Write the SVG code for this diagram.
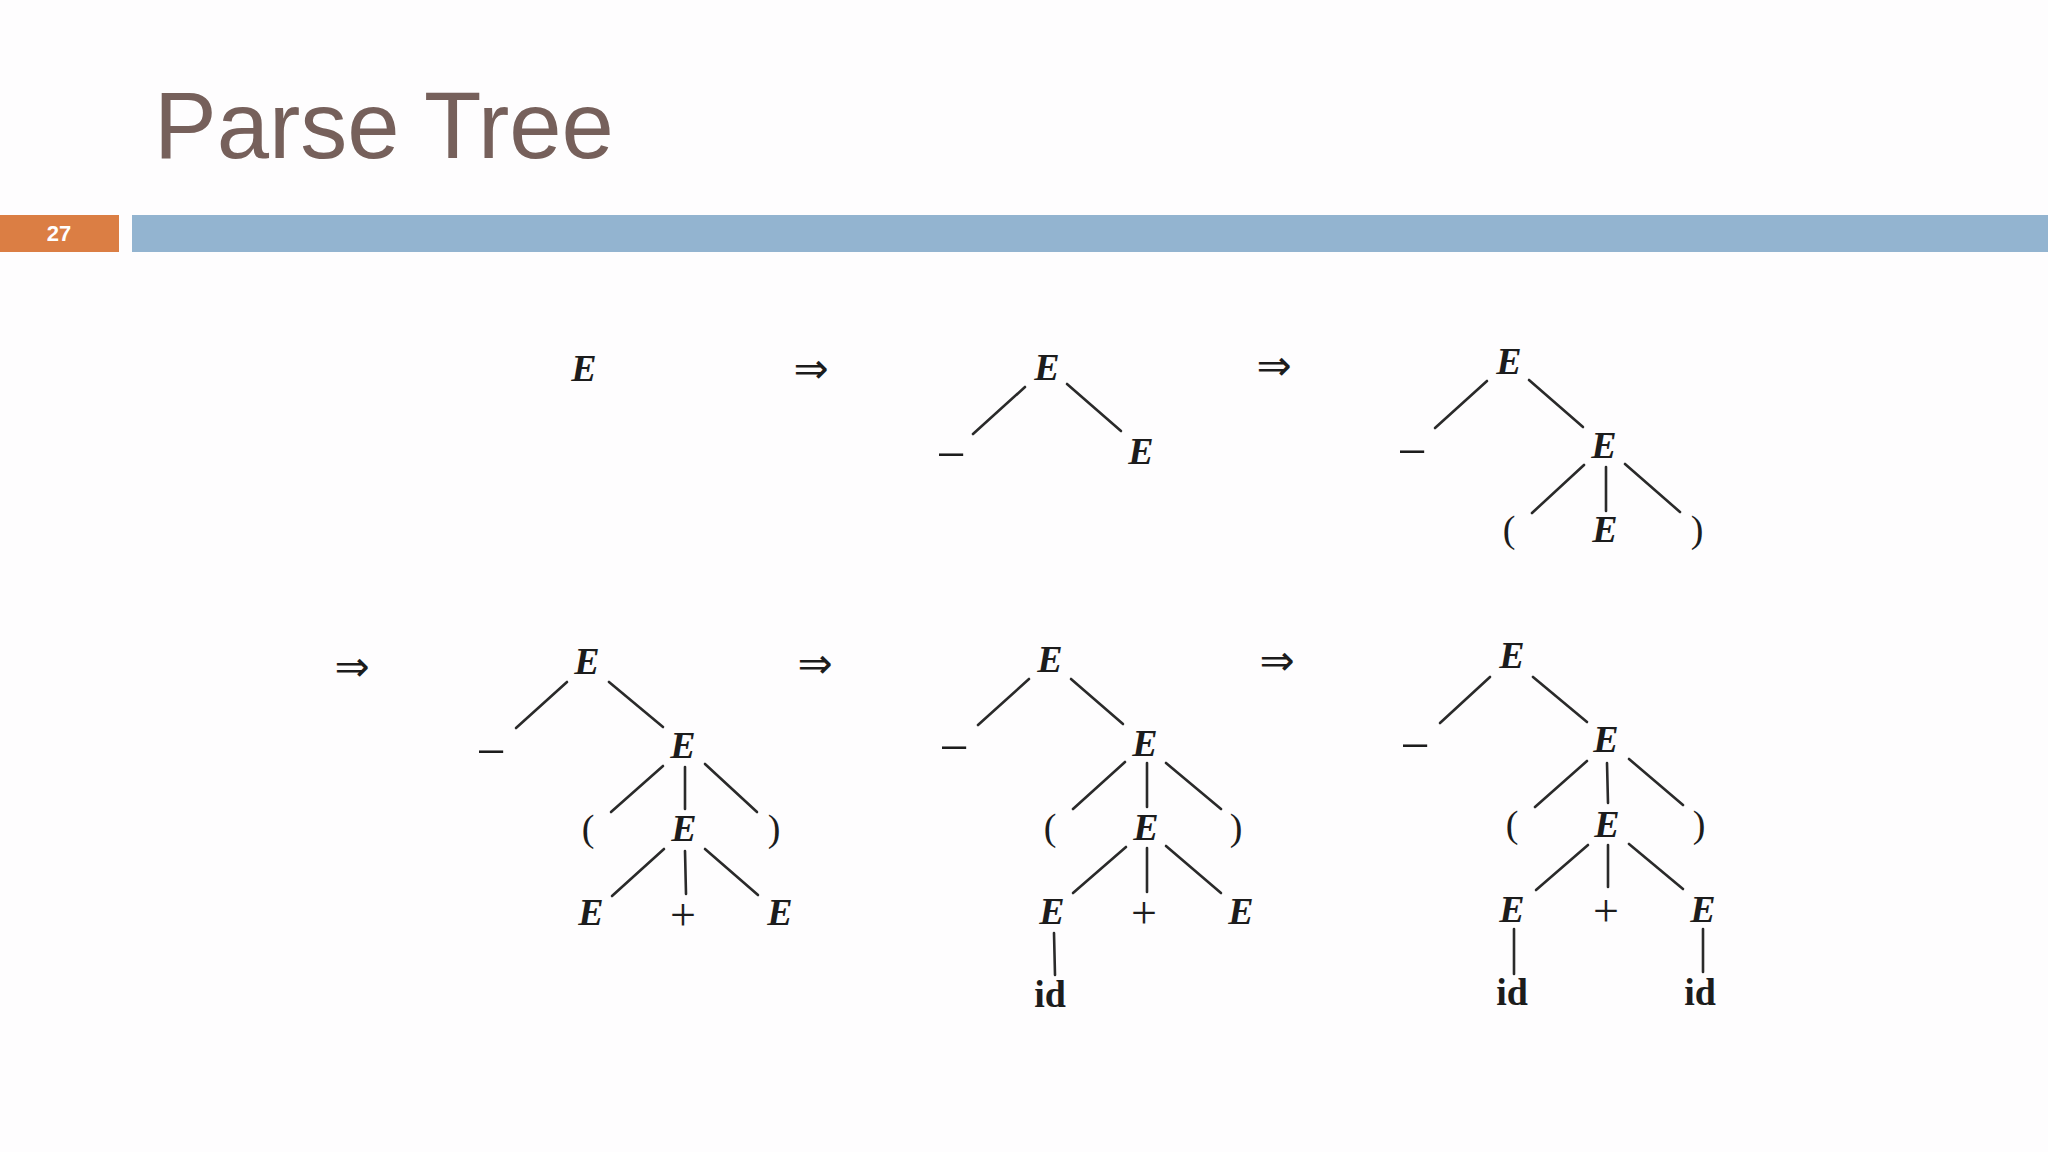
<svg xmlns="http://www.w3.org/2000/svg" width="2048" height="1152" viewBox="0 0 2048 1152">
<style>
.e{font-family:"Liberation Serif",serif;font-style:italic;font-weight:bold;font-size:38px;fill:#1c1c1c;text-anchor:middle}
.s{font-family:"Liberation Serif",serif;font-size:38px;fill:#1c1c1c;text-anchor:middle}
.m{font-family:"Liberation Serif",serif;font-size:52px;fill:#1c1c1c;text-anchor:middle}
.p{font-family:"Liberation Serif",serif;font-size:46px;fill:#1c1c1c;text-anchor:middle}
.id{font-family:"Liberation Serif",serif;font-weight:bold;font-size:38px;fill:#1c1c1c;text-anchor:middle}
.ar{font-family:"DejaVu Sans",sans-serif;font-size:42px;fill:#1c1c1c;text-anchor:middle}
.c line{stroke:#2a2a2a;stroke-width:2.6;stroke-linecap:round}
</style>
<rect width="2048" height="1152" fill="#fefdfe"/>
<g id="header">
<text x="154" y="158" font-family="Liberation Sans, Arial, sans-serif" font-size="94" fill="#76605b">Parse Tree</text>
<rect x="0" y="215" width="119" height="37" fill="#db7e44"/>
<rect x="132" y="215" width="1916" height="37" fill="#93b4d0"/>
<text x="59" y="241" font-family="Liberation Sans, Arial, sans-serif" font-size="22" font-weight="bold" fill="#ffffff" text-anchor="middle">27</text>
</g>
<g id="arrows">
<text class="ar" x="811" y="383">⇒</text>
<text class="ar" x="1274" y="380">⇒</text>
<text class="ar" x="352" y="681">⇒</text>
<text class="ar" x="815" y="678">⇒</text>
<text class="ar" x="1277" y="675">⇒</text>
</g>
<g id="tree1">
<text class="e" x="584" y="381">E</text>
</g>
<g id="tree2">
<text class="e" x="1047" y="380">E</text>
<text class="m" x="951" y="472">−</text>
<text class="e" x="1141" y="464">E</text>
</g>
<g id="tree3">
<text class="e" x="1509" y="374">E</text>
<text class="m" x="1412" y="469">−</text>
<text class="e" x="1604" y="458">E</text>
<text class="s" x="1509" y="542">(</text>
<text class="e" x="1605" y="542">E</text>
<text class="s" x="1697" y="542">)</text>
</g>
<g id="tree4">
<text class="e" x="587" y="674">E</text>
<text class="m" x="491" y="769">−</text>
<text class="e" x="683" y="758">E</text>
<text class="s" x="588" y="841">(</text>
<text class="e" x="684" y="841">E</text>
<text class="s" x="774" y="841">)</text>
<text class="e" x="591" y="925">E</text>
<text class="p" x="683" y="930">+</text>
<text class="e" x="780" y="925">E</text>
</g>
<g id="tree5">
<text class="e" x="1050" y="672">E</text>
<text class="m" x="954" y="765">−</text>
<text class="e" x="1145" y="756">E</text>
<text class="s" x="1050" y="840">(</text>
<text class="e" x="1146" y="840">E</text>
<text class="s" x="1236" y="840">)</text>
<text class="e" x="1052" y="924">E</text>
<text class="p" x="1144" y="928">+</text>
<text class="e" x="1241" y="924">E</text>
<text class="id" x="1050" y="1007">id</text>
</g>
<g id="tree6">
<text class="e" x="1512" y="668">E</text>
<text class="m" x="1415" y="763">−</text>
<text class="e" x="1606" y="752">E</text>
<text class="s" x="1512" y="837">(</text>
<text class="e" x="1607" y="837">E</text>
<text class="s" x="1699" y="837">)</text>
<text class="e" x="1512" y="922">E</text>
<text class="p" x="1606" y="926">+</text>
<text class="e" x="1703" y="922">E</text>
<text class="id" x="1512" y="1005">id</text>
<text class="id" x="1700" y="1005">id</text>
</g>
<g id="connectors" class="c">
<line x1="1025" y1="387" x2="973" y2="434"/>
<line x1="1067" y1="384" x2="1121" y2="431"/>
<line x1="1487" y1="381" x2="1435" y2="428"/>
<line x1="1529" y1="380" x2="1583" y2="427"/>
<line x1="1584" y1="465" x2="1532" y2="513"/>
<line x1="1606" y1="467" x2="1606" y2="511"/>
<line x1="1625" y1="464" x2="1680" y2="512"/>
<line x1="567" y1="682" x2="516" y2="728"/>
<line x1="609" y1="682" x2="663" y2="727"/>
<line x1="663" y1="766" x2="611" y2="812"/>
<line x1="685" y1="767" x2="685" y2="809"/>
<line x1="705" y1="764" x2="757" y2="812"/>
<line x1="664" y1="849" x2="612" y2="896"/>
<line x1="685" y1="851" x2="686" y2="894"/>
<line x1="705" y1="849" x2="758" y2="895"/>
<line x1="1029" y1="679" x2="978" y2="725"/>
<line x1="1071" y1="679" x2="1123" y2="724"/>
<line x1="1125" y1="762" x2="1073" y2="809"/>
<line x1="1147" y1="763" x2="1147" y2="807"/>
<line x1="1166" y1="763" x2="1221" y2="809"/>
<line x1="1126" y1="847" x2="1073" y2="893"/>
<line x1="1147" y1="848" x2="1147" y2="892"/>
<line x1="1166" y1="846" x2="1221" y2="893"/>
<line x1="1054" y1="933" x2="1055" y2="975"/>
<line x1="1490" y1="677" x2="1440" y2="723"/>
<line x1="1533" y1="677" x2="1587" y2="722"/>
<line x1="1587" y1="761" x2="1535" y2="807"/>
<line x1="1607" y1="763" x2="1608" y2="803"/>
<line x1="1629" y1="759" x2="1683" y2="805"/>
<line x1="1588" y1="845" x2="1536" y2="890"/>
<line x1="1608" y1="845" x2="1608" y2="887"/>
<line x1="1629" y1="844" x2="1683" y2="889"/>
<line x1="1514" y1="929" x2="1514" y2="974"/>
<line x1="1703" y1="929" x2="1703" y2="972"/>
</g>
</svg>
